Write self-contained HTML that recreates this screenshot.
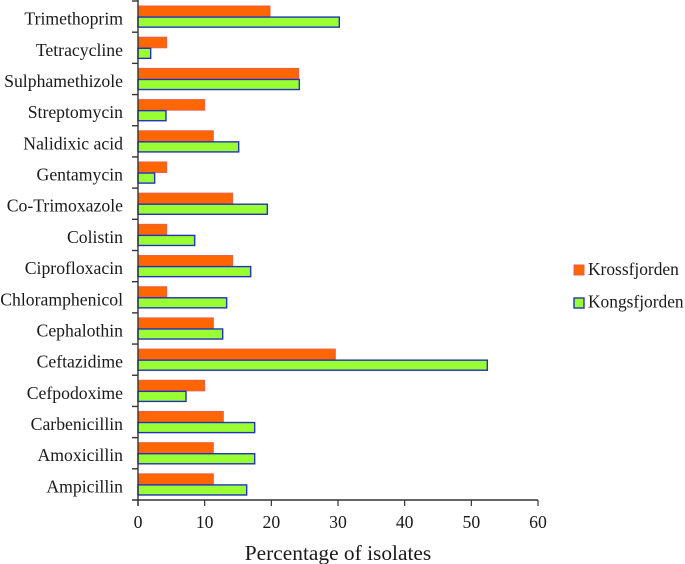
<!DOCTYPE html>
<html>
<head>
<meta charset="utf-8">
<style>
html,body{margin:0;padding:0;background:#fff;width:685px;height:564px;overflow:hidden}
svg{display:block;font-family:"Liberation Serif",serif;fill:#1a1a1a}
</style>
</head>
<body>
<svg id="chart" width="685" height="564" viewBox="0 0 685 564" xmlns="http://www.w3.org/2000/svg"></svg>
<script>
const categories = ["Ampicillin","Amoxicillin","Carbenicillin","Cefpodoxime","Ceftazidime","Cephalothin","Chloramphenicol","Ciprofloxacin","Colistin","Co-Trimoxazole","Gentamycin","Nalidixic acid","Streptomycin","Sulphamethizole","Tetracycline","Trimethoprim"];
const krossfjorden = [11.3,11.3,12.8,10,29.6,11.3,4.3,14.2,4.3,14.2,4.3,11.3,10,24.1,4.3,19.8];
const kongsfjorden = [16.3,17.5,17.5,7.2,52.4,12.7,13.3,16.9,8.5,19.4,2.5,15.1,4.2,24.2,1.9,30.2];
const xTicks = [0,10,20,30,40,50,60];
const xTitle = "Percentage of isolates";
const seriesNames = ["Krossfjorden","Kongsfjorden"];

const svg = document.getElementById('chart');
const NS = 'http://www.w3.org/2000/svg';
const plot = {left:138, right:538, top:1, bottom:500};
const xMax = xTicks[xTicks.length-1];
function xScale(v){ return plot.left + v/xMax*(plot.right-plot.left); }
function band(){ return (plot.bottom-plot.top)/categories.length; }
function bandTop(i){ return plot.bottom - (i+1)*band(); }
function add(tag, attrs, text){
  const el = document.createElementNS(NS, tag);
  for (const k in attrs) el.setAttribute(k, attrs[k]);
  if (text !== undefined) el.textContent = text;
  svg.appendChild(el);
  return el;
}
const orange = '#ff6600', orangeEdge = '#e8604a', green = '#99ff33', blue = '#2233bb';

categories.forEach(function(name,i){
  const t = bandTop(i), b = band();
  const h1 = b*0.355;
  const y1 = t + b*0.145;
  const y2 = y1 + h1;
  const r1 = add('rect',{x:plot.left,y:y1+0.5,width:xScale(krossfjorden[i])-plot.left,height:h1-0.5,fill:orange,stroke:orangeEdge,'stroke-width':1});
  
  
  const r2 = add('rect',{x:plot.left,y:y2+0.5,width:xScale(kongsfjorden[i])-plot.left,height:h1-1,fill:green,stroke:blue,'stroke-width':1.4});
  
  
  const lb = add('text',{x:123,y:t+b/2+8,'text-anchor':'end','font-size':17.7},name);
  
  
});

const yAxis = add('line',{x1:plot.left,y1:0,x2:plot.left,y2:plot.bottom+6,stroke:'#333','stroke-width':1.4});


const xAxis = add('line',{x1:plot.left-6,y1:plot.bottom,x2:plot.right,y2:plot.bottom,stroke:'#333','stroke-width':1.4});



for (let i=0;i<categories.length;i++){
  const yt = bandTop(i);
  const tk = add('line',{x1:plot.left-6,y1:yt,x2:plot.left,y2:yt,stroke:'#333','stroke-width':1.4});
  
  
}
xTicks.forEach(function(v){
  const x = xScale(v);
  const tk = add('line',{x1:x,y1:plot.bottom,x2:x,y2:plot.bottom+6,stroke:'#333','stroke-width':1.2});
  
  
  const lb = add('text',{x:x,y:528,'text-anchor':'middle','font-size':17.7},String(v));
  
  
});
const title = add('text',{x:338,y:560,'text-anchor':'middle','font-size':21.4},xTitle);



const sw1 = add('rect',{x:574,y:265,width:10,height:10,fill:orange,stroke:orangeEdge,'stroke-width':1});


const lt1 = add('text',{x:588,y:275,'font-size':17.4},seriesNames[0]);


const sw2 = add('rect',{x:574,y:298,width:10,height:10,fill:green,stroke:blue,'stroke-width':1.4});


const lt2 = add('text',{x:588,y:307.5,'font-size':17.4},seriesNames[1]);


</script>
</body>
</html>
